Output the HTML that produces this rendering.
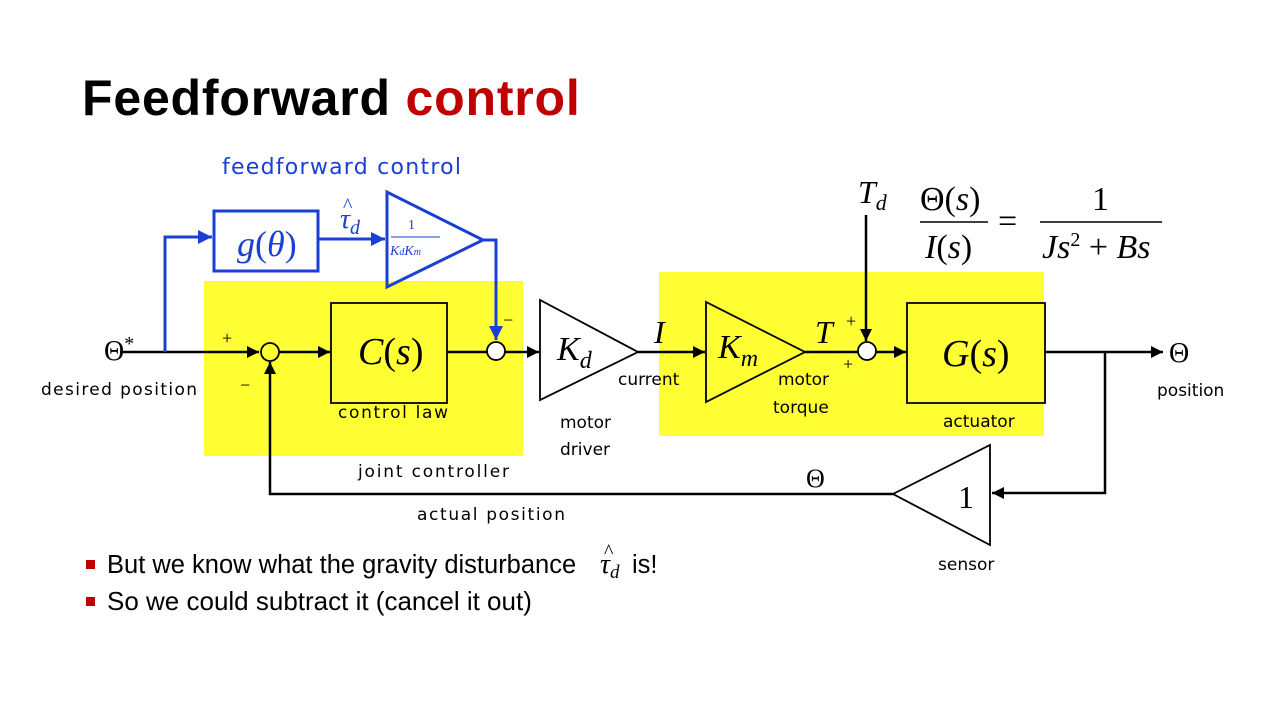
<!DOCTYPE html>
<html><head><meta charset="utf-8"><style>
body{margin:0;width:1280px;height:720px;background:#fff;overflow:hidden;font-family:"Liberation Sans",sans-serif}
</style></head><body>
<svg width="1280" height="720" viewBox="0 0 1280 720" xmlns="http://www.w3.org/2000/svg">
<defs>
<marker id="a" viewBox="0 0 10 10" refX="10" refY="5" markerWidth="13" markerHeight="12" orient="auto" markerUnits="userSpaceOnUse"><path d="M0,0L10,5L0,10z" fill="#000"/></marker>
<marker id="ab" viewBox="0 0 10 10" refX="10" refY="5" markerWidth="15" markerHeight="14" orient="auto" markerUnits="userSpaceOnUse"><path d="M0,0L10,5L0,10z" fill="#1a3fd6"/></marker>
</defs>
<text x="82" y="115" font-size="50" font-weight="bold" fill="#000" letter-spacing="0.8">Feedforward <tspan fill="#c00000">control</tspan></text>

<rect x="204" y="281" width="319" height="175" fill="#ffff33"/>
<rect x="659" y="272" width="385" height="164" fill="#ffff33"/>

<g font-family="'Comic Sans MS','DejaVu Sans',sans-serif" font-size="17">
<text x="222" y="174" fill="#1a3fd6" font-size="22" textLength="239">feedforward control</text>
<text x="41" y="395" textLength="156">desired position</text>
<text x="338" y="418" textLength="110">control law</text>
<text x="358" y="477" textLength="151">joint controller</text>
<text x="417" y="520" textLength="148">actual position</text>
<text x="560" y="428">motor</text>
<text x="560" y="455">driver</text>
<text x="618" y="385">current</text>
<text x="778" y="385">motor</text>
<text x="773" y="413">torque</text>
<text x="943" y="427">actuator</text>
<text x="1157" y="396">position</text>
<text x="938" y="570">sensor</text>
</g>

<g stroke="#000" stroke-width="2.5" fill="none">
<line x1="120" y1="352" x2="259" y2="352" marker-end="url(#a)"/>
<line x1="279" y1="352" x2="330" y2="352" marker-end="url(#a)"/>
<line x1="447" y1="352" x2="487" y2="352"/>
<line x1="505" y1="352" x2="539" y2="352" marker-end="url(#a)"/>
<line x1="638" y1="352" x2="705" y2="352" marker-end="url(#a)"/>
<line x1="805" y1="352" x2="858" y2="352"/>
<line x1="876" y1="352" x2="906" y2="352" marker-end="url(#a)"/>
<line x1="1045" y1="352" x2="1163" y2="352" marker-end="url(#a)"/>
<line x1="866" y1="215" x2="866" y2="341" marker-end="url(#a)"/>
<polyline points="1105,352 1105,493 992,493" marker-end="url(#a)"/>
<polyline points="893,494 270,494 270,362" marker-end="url(#a)"/>
</g>
<g stroke="#000" stroke-width="1.8">
<rect x="331" y="303" width="116" height="100" fill="#ffff33"/>
<rect x="907" y="303" width="138" height="100" fill="#ffff33"/>
<polygon points="540,300 540,400 638,352" fill="#fff"/>
<polygon points="706,302 706,402 805,352" fill="#ffff33"/>
<polygon points="990,445 990,545 893,494" fill="#fff"/>
<circle cx="270" cy="352" r="9" fill="#ffff33"/>
<circle cx="496" cy="351" r="9" fill="#fff"/>
<circle cx="867" cy="351" r="9" fill="#fff"/>
</g>

<g stroke="#1a3fd6" stroke-width="3" fill="none">
<polyline points="165,352 165,237 212,237" marker-end="url(#ab)"/>
<line x1="318" y1="239" x2="385" y2="239" marker-end="url(#ab)"/>
<polyline points="483,240 496,240 496,340" marker-end="url(#ab)"/>
<rect x="214" y="211" width="104" height="60"/>
<polygon points="387,192 387,287 483,240"/>
</g>
<line x1="391" y1="237" x2="440" y2="237" stroke="#1a3fd6" stroke-width="1"/>

<g font-family="'Liberation Serif',serif" font-style="italic" fill="#000">
<text x="237" y="256" font-size="36" fill="#1a3fd6">g<tspan font-style="normal">(</tspan>θ<tspan font-style="normal">)</tspan></text>
<text x="340" y="228" font-size="28" fill="#1a3fd6">τ<tspan font-size="20" dy="6">d</tspan></text>
<text x="343" y="212" font-size="20" fill="#1a3fd6" font-style="normal">^</text>
<text x="408" y="229" font-size="14" fill="#1a3fd6" font-style="normal">1</text>
<text x="390" y="255" font-size="14" fill="#1a3fd6">K<tspan font-size="10">d</tspan>K<tspan font-size="10">m</tspan></text>
<text x="358" y="364" font-size="38">C<tspan font-style="normal">(</tspan>s<tspan font-style="normal">)</tspan></text>
<text x="557" y="360" font-size="34">K<tspan font-size="24" dy="8">d</tspan></text>
<text x="718" y="358" font-size="34">K<tspan font-size="24" dy="8">m</tspan></text>
<text x="654" y="343" font-size="32">I</text>
<text x="815" y="343" font-size="32">T</text>
<text x="858" y="203" font-size="32">T<tspan font-size="22" dy="7">d</tspan></text>
<text x="942" y="366" font-size="38">G<tspan font-style="normal">(</tspan>s<tspan font-style="normal">)</tspan></text>
<text x="958" y="508" font-size="32" font-style="normal">1</text>
<text x="104" y="360" font-size="28" font-style="normal">Θ<tspan font-size="20" dy="-10">*</tspan></text>
<text x="1169" y="362" font-size="28" font-style="normal">Θ</text>
<text x="806" y="487" font-size="26" font-style="normal">Θ</text>
<text x="920" y="210" font-size="34"><tspan font-style="normal">Θ(</tspan>s<tspan font-style="normal">)</tspan></text>
<line x1="920" y1="222" x2="988" y2="222" stroke="#000" stroke-width="1.5"/>
<text x="925" y="258" font-size="34">I<tspan font-style="normal">(</tspan>s<tspan font-style="normal">)</tspan></text>
<text x="998" y="232" font-size="34" font-style="normal">=</text>
<text x="1092" y="210" font-size="34" font-style="normal">1</text>
<line x1="1040" y1="222" x2="1162" y2="222" stroke="#000" stroke-width="1.5"/>
<text x="1042" y="258" font-size="34">Js<tspan font-size="20" dy="-12" font-style="normal">2</tspan><tspan dy="12" font-style="normal"> + </tspan>Bs</text>
</g>
<g font-family="'Liberation Serif',serif" font-size="18">
<text x="222" y="344">+</text><text x="240" y="391">−</text>
<text x="503" y="326">−</text>
<text x="846" y="327">+</text><text x="843" y="370">+</text>
</g>

<rect x="86" y="560" width="9" height="9" fill="#c00000"/>
<rect x="86" y="597" width="9" height="9" fill="#c00000"/>
<text x="107" y="573" font-size="25.5">But we know what the gravity disturbance</text>
<text x="600" y="573" font-family="'Liberation Serif',serif" font-style="italic" font-size="28">τ<tspan font-size="19" dy="5">d</tspan></text>
<text x="604" y="558" font-family="'Liberation Serif',serif" font-size="20">^</text>
<text x="632" y="573" font-size="25.5">is!</text>
<text x="107" y="610" font-size="26">So we could subtract it (cancel it out)</text>
</svg>
</body></html>
